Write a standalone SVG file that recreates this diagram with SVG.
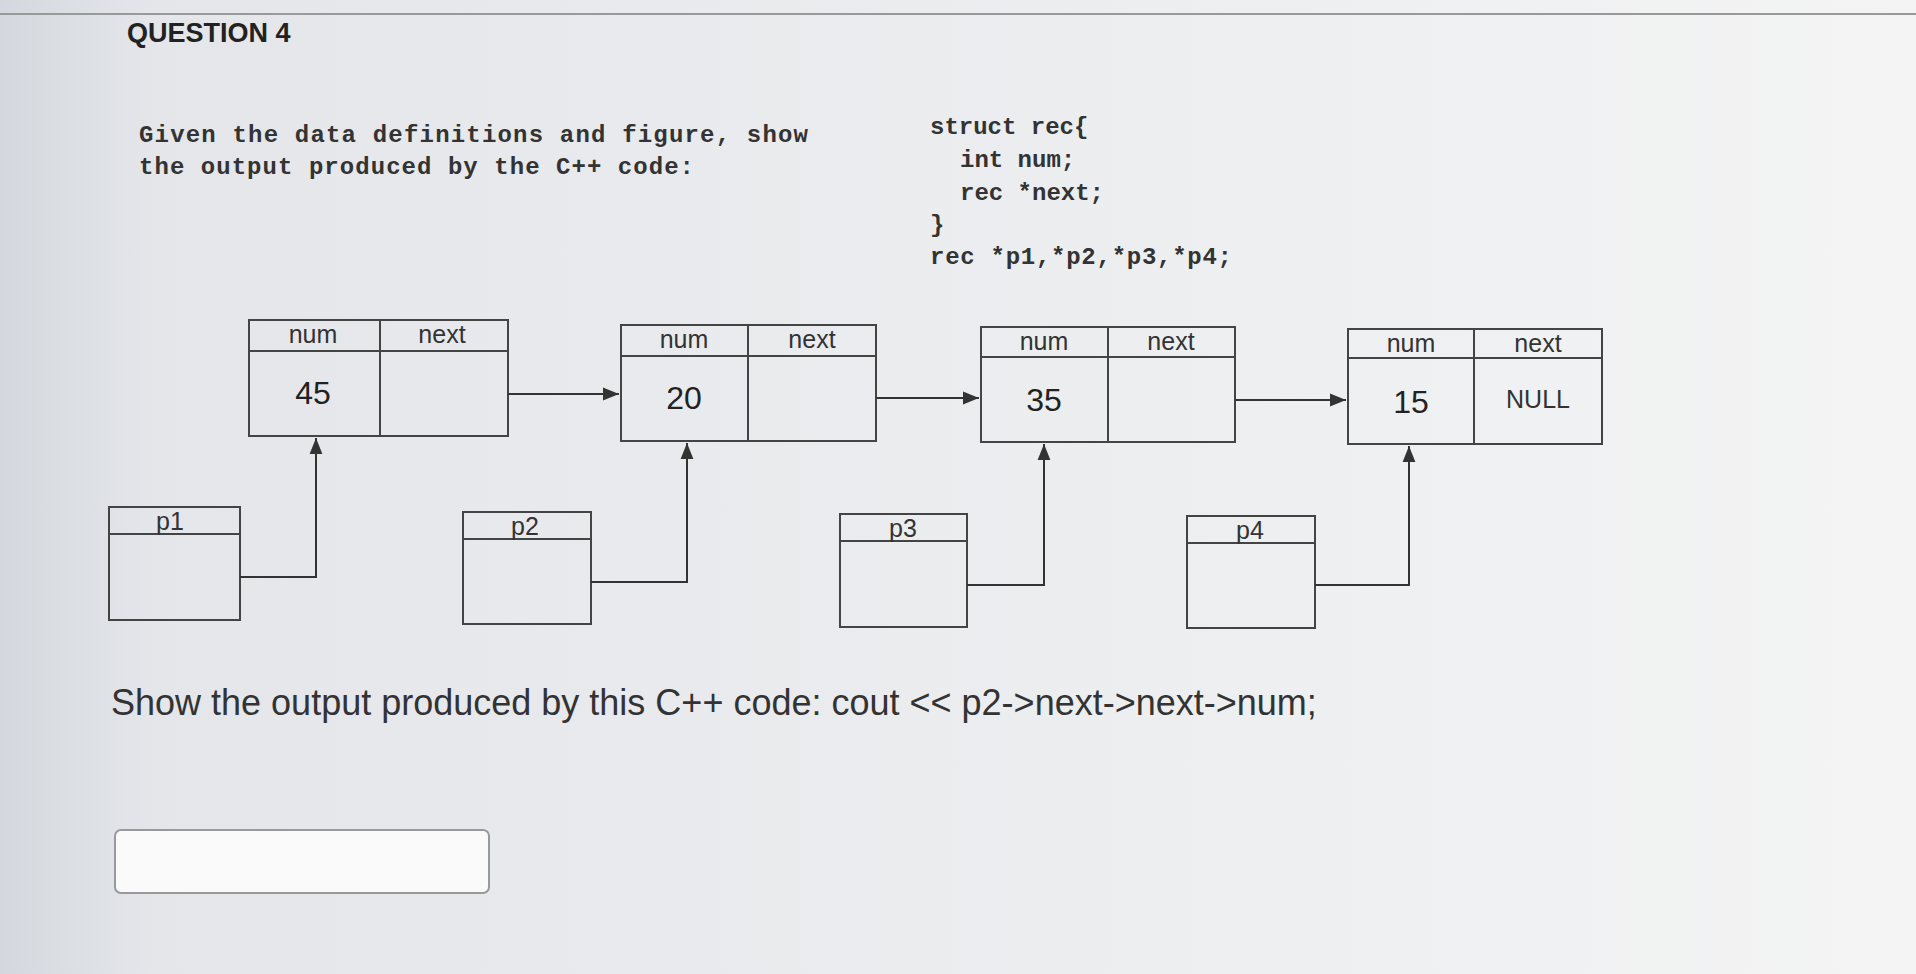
<svg xmlns="http://www.w3.org/2000/svg" width="1916" height="974" viewBox="0 0 1916 974">
<defs>
<linearGradient id="bg" x1="0" y1="0" x2="1" y2="0">
<stop offset="0" stop-color="#d4d8de"/><stop offset="0.08" stop-color="#e4e6ea"/><stop offset="0.6" stop-color="#eceef0"/><stop offset="1" stop-color="#f4f4f4"/>
</linearGradient>
<marker id="ah" viewBox="0 0 10 10" refX="10" refY="5" markerWidth="8" markerHeight="8" orient="auto-start-reverse"><path d="M0,1 L10,5 L0,9 z" fill="#333"/></marker>
</defs>
<style>
.box{fill:none;stroke:#444;stroke-width:2}
.hd{font-family:"Liberation Sans",Arial,sans-serif;font-size:25px;fill:#333;text-anchor:middle}
.val{font-family:"Liberation Sans",Arial,sans-serif;font-size:32px;fill:#222;text-anchor:middle}
.code{font-family:"Liberation Mono","Courier New",monospace;font-weight:bold;font-size:24px;fill:#333}
.ln{fill:none;stroke:#333;stroke-width:2}
</style>
<rect width="1916" height="974" fill="url(#bg)"/>
<line x1="0" y1="14" x2="1916" y2="14" stroke="#999" stroke-width="2"/>
<text x="127" y="42" font-family="Liberation Sans,Arial,sans-serif" font-weight="bold" font-size="27" fill="#222">QUESTION 4</text>
<text class="code" x="139" y="142" textLength="669">Given the data definitions and figure, show</text>
<text class="code" x="139" y="174" textLength="555">the output produced by the C++ code:</text>
<text class="code" x="930" y="134">struct rec{</text>
<text class="code" x="960" y="167">int num;</text>
<text class="code" x="960" y="200">rec *next;</text>
<text class="code" x="930" y="232">}</text>
<text class="code" x="930" y="264" textLength="302">rec *p1,*p2,*p3,*p4;</text>
<g id="node1"><rect class="box" x="249" y="320" width="259" height="116"/><line class="box" x1="249" y1="351" x2="508" y2="351"/><line class="box" x1="380" y1="320" x2="380" y2="436"/><text class="hd" x="313" y="343">num</text><text class="hd" x="442" y="343">next</text><text class="val" x="313" y="404">45</text></g>
<g id="node2"><rect class="box" x="621" y="325" width="255" height="116"/><line class="box" x1="621" y1="356" x2="876" y2="356"/><line class="box" x1="748" y1="325" x2="748" y2="441"/><text class="hd" x="684" y="348">num</text><text class="hd" x="812" y="348">next</text><text class="val" x="684" y="409">20</text></g>
<g id="node3"><rect class="box" x="981" y="327" width="254" height="115"/><line class="box" x1="981" y1="357" x2="1235" y2="357"/><line class="box" x1="1108" y1="327" x2="1108" y2="442"/><text class="hd" x="1044" y="350">num</text><text class="hd" x="1171" y="350">next</text><text class="val" x="1044" y="411">35</text></g>
<g id="node4"><rect class="box" x="1348" y="329" width="254" height="115"/><line class="box" x1="1348" y1="358" x2="1602" y2="358"/><line class="box" x1="1474" y1="329" x2="1474" y2="444"/><text class="hd" x="1411" y="352">num</text><text class="hd" x="1538" y="352">next</text><text class="val" x="1411" y="413">15</text><text class="hd" x="1538" y="408">NULL</text></g>
<g id="p1"><rect class="box" x="109" y="507" width="131" height="113"/><line class="box" x1="109" y1="534" x2="240" y2="534"/><text class="hd" x="170" y="530">p1</text></g>
<g id="p2"><rect class="box" x="463" y="512" width="128" height="112"/><line class="box" x1="463" y1="539" x2="591" y2="539"/><text class="hd" x="525" y="535">p2</text></g>
<g id="p3"><rect class="box" x="840" y="514" width="127" height="113"/><line class="box" x1="840" y1="541" x2="967" y2="541"/><text class="hd" x="903" y="537">p3</text></g>
<g id="p4"><rect class="box" x="1187" y="516" width="128" height="112"/><line class="box" x1="1187" y1="543" x2="1315" y2="543"/><text class="hd" x="1250" y="539">p4</text></g>
<g id="connectors">
<path class="ln" d="M508,394 H619" marker-end="url(#ah)"/>
<path class="ln" d="M876,398 H979" marker-end="url(#ah)"/>
<path class="ln" d="M1235,400 H1346" marker-end="url(#ah)"/>
<path class="ln" d="M240,577 H316 V438" marker-end="url(#ah)"/>
<path class="ln" d="M591,582 H687 V443" marker-end="url(#ah)"/>
<path class="ln" d="M967,585 H1044 V444" marker-end="url(#ah)"/>
<path class="ln" d="M1315,585 H1409 V446" marker-end="url(#ah)"/>
</g>
<text x="111" y="715" font-family="Liberation Sans,Arial,sans-serif" font-size="36" fill="#333">Show the output produced by this  C++ code:  cout &lt;&lt; p2-&gt;next-&gt;next-&gt;num;</text>
<rect x="115" y="830" width="374" height="63" rx="6" fill="#fafafa" stroke="#999" stroke-width="2"/>
</svg>
